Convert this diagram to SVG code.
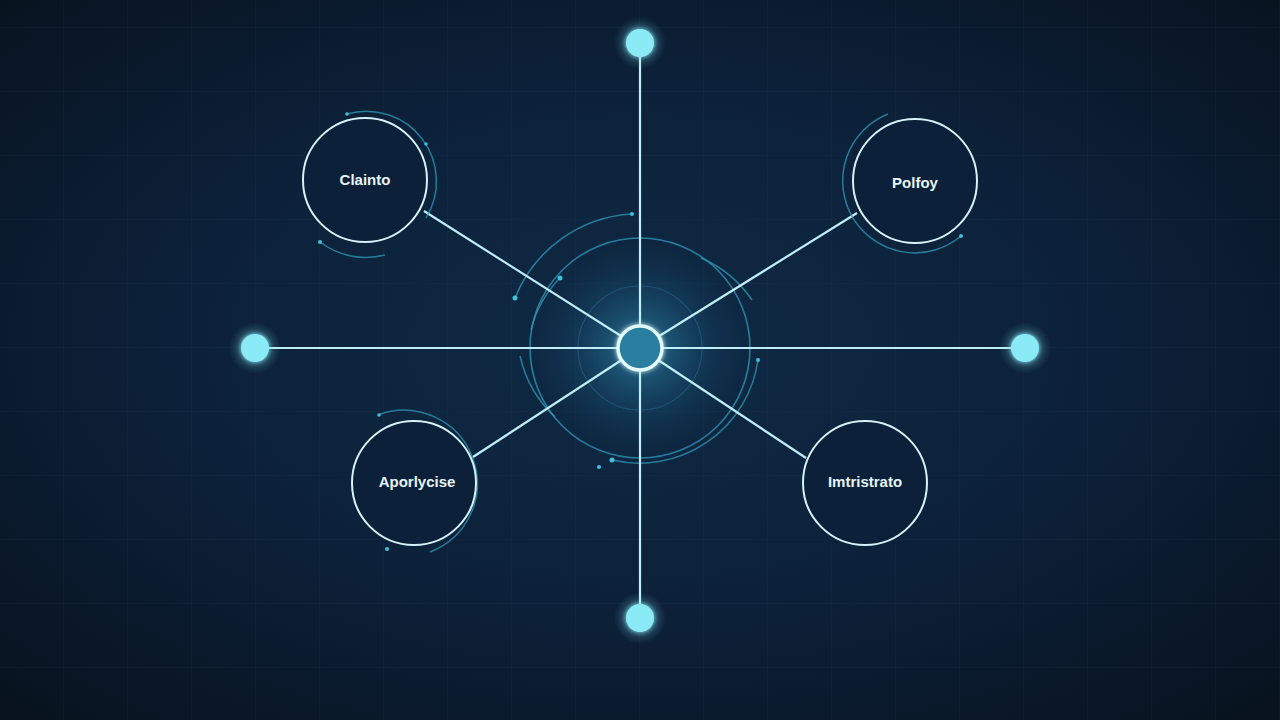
<svg xmlns="http://www.w3.org/2000/svg" width="1280" height="720" viewBox="0 0 1280 720">
<defs>
  <radialGradient id="bg" cx="50%" cy="48%" r="70%">
    <stop offset="0" stop-color="#0f2a45"/>
    <stop offset="0.55" stop-color="#0c2038"/>
    <stop offset="1" stop-color="#08131f"/>
  </radialGradient>
  <radialGradient id="hubGlow" cx="50%" cy="50%" r="50%">
    <stop offset="0" stop-color="#3fb3d6" stop-opacity="0.55"/>
    <stop offset="0.5" stop-color="#1f6f96" stop-opacity="0.25"/>
    <stop offset="1" stop-color="#0c2038" stop-opacity="0"/>
  </radialGradient>
  <radialGradient id="dotGlow" cx="50%" cy="50%" r="50%">
    <stop offset="0" stop-color="#7fe8f5" stop-opacity="0.5"/>
    <stop offset="1" stop-color="#7fe8f5" stop-opacity="0"/>
  </radialGradient>
  <filter id="glow" x="-50%" y="-50%" width="200%" height="200%">
    <feGaussianBlur stdDeviation="2.5" result="b"/>
    <feMerge><feMergeNode in="b"/><feMergeNode in="SourceGraphic"/></feMerge>
  </filter>
  <pattern id="grid" width="64" height="64" patternUnits="userSpaceOnUse" x="0" y="28">
    <path d="M64 0V64M0 64H64" fill="none" stroke="#1c3a55" stroke-width="1" stroke-opacity="0.35"/>
  </pattern>
</defs>
<style>
  .link{stroke:#bfeef8;stroke-width:2.2;fill:none}
  .node{fill:#0c2139;stroke:#d6f1f7;stroke-width:2}
  .arc{fill:none;stroke:#2f9bb8;stroke-width:1.5;stroke-opacity:0.75}
  .ring{fill:none;stroke:#2e93b4;stroke-width:1.6;stroke-opacity:0.8}
  .tip{fill:#3fc0dc}
  .label{font-family:"Liberation Sans",Arial,sans-serif;font-size:15px;font-weight:bold;fill:#e6f4f8;text-anchor:middle}
  .end{fill:#8aeaf6}
</style>
<rect width="1280" height="720" fill="url(#bg)"/>
<rect width="1280" height="720" fill="url(#grid)"/>
<circle cx="640" cy="348" r="120" fill="url(#hubGlow)"/>

<g id="rings">
  <circle class="ring" cx="640" cy="348" r="110"/>
  <circle cx="640" cy="348" r="62" fill="none" stroke="#2b6f8c" stroke-width="1.2" stroke-opacity="0.5"/>
  <path class="arc" d="M632 214 A134 134 0 0 0 515 298"/>
  <circle class="tip" cx="632" cy="214" r="2"/>
  <circle class="tip" cx="515" cy="298" r="2.5"/>
  <path class="arc" d="M560 278 A112 112 0 0 0 531 330"/>
  <circle class="tip" cx="560" cy="278" r="2.5"/>
  <path class="arc" d="M701 258 A118 118 0 0 1 752 300"/>
  <path class="arc" d="M520 356 A120 120 0 0 0 555 417"/>
  <path class="arc" d="M758 360 A120 120 0 0 1 612 460"/>
  <circle class="tip" cx="758" cy="360" r="2"/>
  <circle class="tip" cx="612" cy="460" r="2.5"/>
  <circle class="tip" cx="599" cy="467" r="2"/>
</g>

<g id="connectors">
  <line class="link" x1="640" y1="43" x2="640" y2="618"/>
  <line class="link" x1="255" y1="348" x2="1025" y2="348"/>
  <line class="link" x1="424" y1="211" x2="640" y2="348"/>
  <line class="link" x1="857" y1="213" x2="640" y2="348"/>
  <line class="link" x1="473" y1="457" x2="640" y2="348"/>
  <line class="link" x1="806" y1="458" x2="640" y2="348"/>
</g>

<g id="hub">
  <circle cx="640" cy="348" r="22" fill="#2a7e9f" stroke="#e3fbff" stroke-width="3.5" filter="url(#glow)"/>
</g>

<g id="end-top"><circle cx="640" cy="43" r="26" fill="url(#dotGlow)"/><circle class="end" cx="640" cy="43" r="14" filter="url(#glow)"/></g>
<g id="end-bottom"><circle cx="640" cy="618" r="26" fill="url(#dotGlow)"/><circle class="end" cx="640" cy="618" r="14" filter="url(#glow)"/></g>
<g id="end-left"><circle cx="255" cy="348" r="26" fill="url(#dotGlow)"/><circle class="end" cx="255" cy="348" r="14" filter="url(#glow)"/></g>
<g id="end-right"><circle cx="1025" cy="348" r="26" fill="url(#dotGlow)"/><circle class="end" cx="1025" cy="348" r="14" filter="url(#glow)"/></g>

<g id="node-clainto">
  <path class="arc" d="M347 114 A70 70 0 0 1 426 218"/>
  <circle class="tip" cx="347" cy="114" r="1.8"/>
  <circle class="tip" cx="426" cy="144" r="1.8"/>
  <path class="arc" d="M320 242 A76 76 0 0 0 385 255" stroke-opacity="0.4"/>
  <circle class="tip" cx="320" cy="242" r="2"/>
  <circle class="node" cx="365" cy="180" r="62"/>
  <text class="label" x="365" y="185">Clainto</text>
</g>

<g id="node-polfoy">
  <path class="arc" d="M888 114 A72 72 0 1 0 961 236"/>
  <circle class="tip" cx="961" cy="236" r="2"/>
  <circle class="node" cx="915" cy="181" r="62"/>
  <text class="label" x="915" y="188">Polfoy</text>
</g>

<g id="node-aporlycise">
  <path class="arc" d="M378 415 A72 72 0 0 1 430 552"/>
  <circle class="tip" cx="379" cy="415" r="1.8"/>
  <circle class="tip" cx="387" cy="549" r="2"/>
  <circle class="node" cx="414" cy="483" r="62"/>
  <text class="label" x="417" y="487">Aporlycise</text>
</g>

<g id="node-imtristrato">
  <circle class="node" cx="865" cy="483" r="62"/>
  <text class="label" x="865" y="487">Imtristrato</text>
</g>
</svg>
